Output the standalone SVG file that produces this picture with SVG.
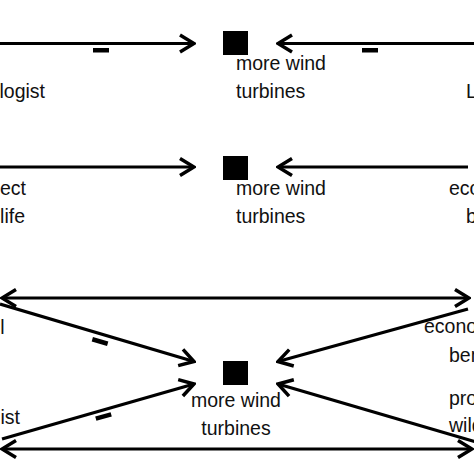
<svg xmlns="http://www.w3.org/2000/svg" width="474" height="474" viewBox="0 0 474 474">
<style>
text{font-family:"Liberation Sans",Arial,sans-serif;font-size:19.5px;fill:#111}
.c{fill:none;stroke:#000;stroke-width:3.2}
.m{fill:#000}
.sq{fill:#000}
</style>
<defs>
<marker id="ah" markerUnits="userSpaceOnUse" viewBox="-17 -11 19 22" markerWidth="19" markerHeight="22" refX="0" refY="0" orient="auto-start-reverse">
<path d="M-14,-8.5 L0,0 L-14,8.5" fill="none" stroke="#000" stroke-width="3.5"/>
</marker>
</defs>
<rect width="474" height="474" fill="#fff"/>
<g id="connectors">
<line class="c" x1="0" y1="43.5" x2="194" y2="43.5" marker-end="url(#ah)"/>
<rect class="m" x="93" y="48" width="16" height="4.5"/>
<line class="c" x1="474" y1="43.5" x2="278" y2="43.5" marker-end="url(#ah)"/>
<rect class="m" x="362" y="48" width="16" height="4.5"/>
<line class="c" x1="0" y1="167" x2="194" y2="167" marker-end="url(#ah)"/>
<line class="c" x1="468" y1="167" x2="278" y2="167" marker-end="url(#ah)"/>
<line class="c" x1="2" y1="298" x2="469" y2="298" marker-start="url(#ah)" marker-end="url(#ah)"/>
<line class="c" x1="2" y1="449" x2="472" y2="449" marker-start="url(#ah)" marker-end="url(#ah)"/>
<line class="c" x1="0" y1="304" x2="194" y2="361.5" marker-end="url(#ah)"/>
<rect class="m" x="-8" y="-2.25" width="16" height="4.5" transform="translate(100,341.5) rotate(16.5)"/>
<line class="c" x1="2" y1="439" x2="194" y2="384" marker-end="url(#ah)"/>
<rect class="m" x="-8" y="-2.25" width="16" height="4.5" transform="translate(103.5,416.5) rotate(-16)"/>
<line class="c" x1="468" y1="309" x2="278" y2="361.5" marker-end="url(#ah)"/>
<line class="c" x1="476" y1="442" x2="278" y2="384" marker-end="url(#ah)"/>
</g>
<g id="node-turbines-1">
<rect class="sq" x="223" y="31" width="25" height="24"/>
<text x="236" y="70">more wind</text>
<text x="236" y="98">turbines</text>
</g>
<g id="node-left-1"><text x="45" y="98" text-anchor="end">logist</text></g>
<g id="node-right-1"><text x="466" y="98">L</text></g>
<g id="node-turbines-2">
<rect class="sq" x="223" y="156" width="25" height="24"/>
<text x="236" y="195">more wind</text>
<text x="236" y="223">turbines</text>
</g>
<g id="node-left-2"><text x="26" y="195" text-anchor="end">ect</text><text x="25" y="223" text-anchor="end">life</text></g>
<g id="node-right-2"><text x="449" y="195">eco</text><text x="466" y="223">b</text></g>
<g id="node-turbines-3">
<rect class="sq" x="223" y="361" width="25" height="24"/>
<text x="236" y="407" text-anchor="middle">more wind</text>
<text x="236" y="435" text-anchor="middle">turbines</text>
</g>
<g id="node-left-3a"><text x="4.5" y="334" text-anchor="end">l</text></g>
<g id="node-left-3b"><text x="20" y="424" text-anchor="end">ist</text></g>
<g id="node-right-3a"><text x="424" y="333">econo</text><text x="449" y="362">ben</text></g>
<g id="node-right-3b"><text x="449" y="405">pro</text><text x="449" y="432">wild</text></g>
</svg>
